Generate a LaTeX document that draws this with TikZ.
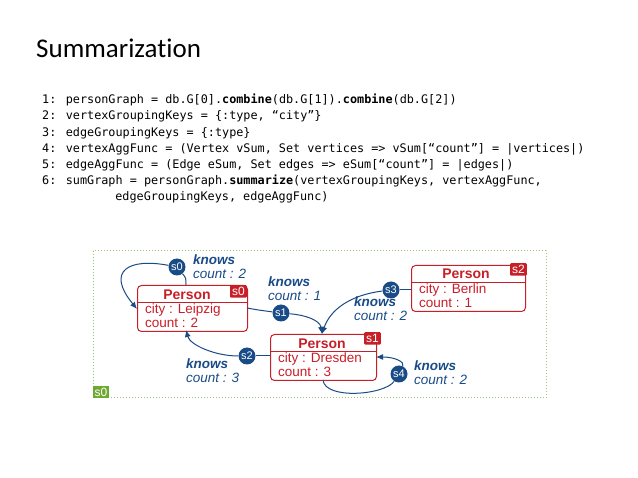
\documentclass[tikz,border=0pt]{standalone}
\usepackage{fontspec}
\setmainfont[Ligatures={NoCommon}]{Carlito}
\setsansfont{Liberation Sans}
\newfontfamily\cmono{DejaVu Sans Mono}
\usetikzlibrary{arrows.meta}
\definecolor{vred}{RGB}{200,30,40}
\definecolor{eblue}{RGB}{25,75,135}
\definecolor{gboxc}{RGB}{110,170,50}
\begin{document}
\begin{tikzpicture}[x=1pt,y=-1pt,
 vbox/.style={draw=vred,line width=1pt,rounded corners=4pt,minimum width=#1,minimum height=46,inner sep=0},
 tag/.style={fill=vred,text=white,font=\sffamily\fontsize{12}{12}\selectfont,inner sep=2pt,rounded corners=1pt},
 enode/.style={circle,fill=eblue,text=white,font=\sffamily\fontsize{11}{11}\selectfont,inner sep=0,minimum size=17},
 elab/.style={text=eblue,font=\sffamily\fontsize{13.5}{14}\selectfont\itshape,align=left,inner sep=0},
 vtext/.style={text=vred,font=\sffamily\fontsize{13.5}{14}\selectfont,align=left,inner sep=0,anchor=north west},
 vhead/.style={text=vred,font=\sffamily\bfseries\fontsize{14}{14}\selectfont,inner sep=0},
 earr/.style={draw=eblue,line width=1pt,-{Latex[length=7pt,width=6pt]}},
 eln/.style={draw=eblue,line width=1pt}]
\useasboundingbox (0,0) rectangle (638,478);
\node[anchor=west,inner sep=0,font=\fontsize{27}{30}\selectfont] (title) at (36,48) {Summarization};
\node[anchor=north west,inner sep=0,font=\cmono\fontsize{11.8}{16.2}\selectfont,align=left] (code) at (42,94) {%
1: personGraph = db.G[0].\textbf{combine}(db.G[1]).\textbf{combine}(db.G[2])\\
2: vertexGroupingKeys = \{:type, “city”\}\\
3: edgeGroupingKeys = \{:type\}\\
4: vertexAggFunc = (Vertex vSum, Set vertices => vSum[“count”] = |vertices|)\\
5: edgeAggFunc = (Edge eSum, Set edges => eSum[“count”] = |edges|)\\
6: sumGraph = personGraph.\textbf{summarize}(vertexGroupingKeys, vertexAggFunc,\\
\hspace*{6.2em}edgeGroupingKeys, edgeAggFunc)};
% graph box
\draw[gboxc!70,dotted,line width=1pt] (93,251) rectangle (546,398);
\node[fill=gboxc,text=white,font=\sffamily\fontsize{12}{12}\selectfont,inner sep=1.5pt,anchor=south west] (gt) at (93,398) {s0};
% vertices
\node[vbox=110,anchor=north west] (L) at (137,285) {};
\draw[vred,line width=1pt] (137,303) -- (247,303);
\node[vhead] (Lh) at (187,295) {Person};
\node[tag,anchor=north east] (Lt) at (247,285) {s0};
\node[vtext] (Lx) at (145,304) {city : Leipzig\\count : 2};
\node[vbox=114,anchor=north west] (B) at (411,265) {};
\draw[vred,line width=1pt] (411,283) -- (525,283);
\node[vhead] (Bh) at (466,274) {Person};
\node[tag,anchor=north east] (Bt) at (527,263) {s2};
\node[vtext] (Bx) at (419,284) {city : Berlin\\count : 1};
\node[vbox=106,anchor=north west] (D) at (270,334) {};
\draw[vred,line width=1pt] (270,352) -- (376,352);
\node[vhead] (Dh) at (322,344) {Person};
\node[tag,anchor=north east] (Dt) at (381,332) {s1};
\node[vtext] (Dx) at (278,353) {city : Dresden\\count : 3};
% edges
\node[enode] (e0) at (177,267) {s0};
\node[enode] (e1) at (281,313) {s1};
\node[enode] (e2) at (247,356) {s2};
\node[enode] (e3) at (391,290) {s3};
\node[enode] (e4) at (399,374) {s4};
\coordinate (Lr) at (247,308);
\coordinate (Lin) at (137,309);
\coordinate (Lb) at (186,330);
\coordinate (Ltop) at (186,285);
\coordinate (Dtop) at (322,334);
\coordinate (Dl) at (270,356);
\coordinate (Dr) at (376,357);
\coordinate (Db) at (323,380);
\coordinate (Bl) at (411,290);
\draw[eln] (Ltop) .. controls (186,278) .. (e0);
\draw[earr] (e0) .. controls (130,258) and (105,270) .. (Lin);
\draw[eln] (Lr) .. controls (258,310) .. (e1);
\draw[earr] (e1) .. controls (305,315) and (320,320) .. (Dtop);
\draw[eln] (Bl) -- (e3);
\draw[earr] (e3) .. controls (350,295) and (330,310) .. (Dtop);
\draw[eln] (Dl) -- (e2);
\draw[earr] (e2) .. controls (215,356) and (190,345) .. (Lb);
\draw[eln] (Db) .. controls (325,400) and (385,395) .. (e4);
\draw[earr] (e4) .. controls (405,362) and (395,357) .. (Dr);
\node[elab,anchor=north west] (l0) at (193,255) {\textbf{knows}\\count : 2};
\node[elab,anchor=north west] (l1) at (268,277) {\textbf{knows}\\count : 1};
\node[elab,anchor=north west] (l3) at (354,297) {\textbf{knows}\\count : 2};
\node[elab,anchor=north west] (l2) at (186,359) {\textbf{knows}\\count : 3};
\node[elab,anchor=north west] (l4) at (414,361) {\textbf{knows}\\count : 2};
\end{tikzpicture}
\end{document}
